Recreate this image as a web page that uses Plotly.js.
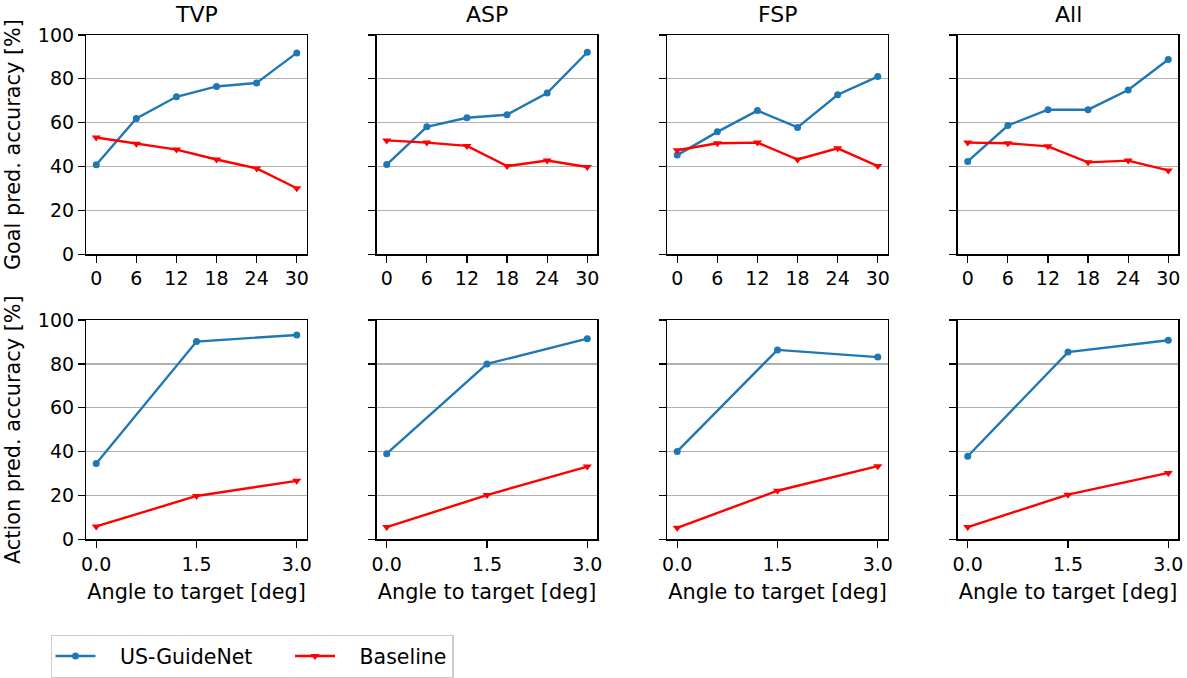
<!DOCTYPE html>
<html>
<head>
<meta charset="utf-8">
<script src="https://cdn.plot.ly/plotly-3.0.1.min.js"></script>
<style>
  html, body { margin: 0; padding: 0; background: #fff; }
  #chart { width: 1187px; height: 678px; }
</style>
</head>
<body>
<div id="chart"></div>
<script>
// panel names
var panels = ["TVP", "ASP", "FSP", "All"];

// top row: goal prediction accuracy vs angle
var goalX = [0, 6, 12, 18, 24, 30];
var goalNet = [
    [40.8, 61.9, 71.8, 76.5, 78.1, 91.8],
    [40.9, 58.1, 62.2, 63.6, 73.5, 92.1],
    [45.2, 55.8, 65.5, 57.8, 72.7, 81.0],
    [42.3, 58.7, 65.9, 65.9, 74.9, 88.8]
];
var goalBase = [
    [53.2, 50.4, 47.7, 43.2, 39.1, 30.1],
    [51.9, 50.9, 49.4, 40.2, 42.7, 39.8],
    [47.4, 50.6, 50.9, 43.2, 48.3, 40.2],
    [50.9, 50.6, 49.2, 41.9, 42.7, 38.2]
];

// bottom row: action prediction accuracy vs angle
var actX = [0, 1.5, 3.0];
var actNet = [
    [34.6, 90.2, 93.2],
    [39.1, 80.0, 91.5],
    [40.1, 86.4, 83.1],
    [37.9, 85.4, 90.8]
];
var actBase = [
    [5.9, 19.8, 26.7],
    [5.6, 20.2, 33.2],
    [5.3, 22.2, 33.4],
    [5.6, 20.4, 30.3]
];

var yTicks = [0, 20, 40, 60, 80, 100];
var seriesNames = ["US-GuideNet", "Baseline"];
var blue = "#1f77b4";
var red = "#ff0000";
var font = "DejaVu Sans, sans-serif";
var nb = "\u00a0";

var W = 1187, H = 678;
// panel boxes in px (left edges, width), rows top / bottom
var lefts = [86.2, 376.7, 667.2, 957.7];
var pw = 220.6;
var rows = [[35, 255], [321, 541]];

var data = [];
var layout = {
    width: W, height: H,
    margin: {l: 0, r: 0, t: 0, b: 0},
    paper_bgcolor: "#fff",
    plot_bgcolor: "#fff",
    font: {family: font, size: 19, color: "#000"},
    showlegend: true,
    legend: {
        orientation: "h",
        x: 50.5 / W, xanchor: "left",
        y: 1 - 637 / H, yanchor: "top",
        bordercolor: "#cccccc", borderwidth: 1.2,
        font: {family: font, size: 20.5, color: "#000"},
        itemwidth: 40
    },
    annotations: []
};

function axisBase(){
    return {
        showline: true, mirror: true, linecolor: "#000", linewidth: 1.3,
        ticks: "outside", ticklen: 7, tickwidth: 1.3, tickcolor: "#000",
        zeroline: false, fixedrange: true,
        tickfont: {family: font, size: 19, color: "#000"}
    };
}

for (let r = 0; r < 2; r++){
    for (let c = 0; c < 4; c++){
        var n = r * 4 + c + 1;
        var xa = axisBase();
        var ya = axisBase();
        xa.domain = [lefts[c] / W, (lefts[c] + pw) / W];
        ya.domain = [1 - rows[r][1] / H, 1 - rows[r][0] / H];
        xa.anchor = "y" + n;
        ya.anchor = "x" + n;
        xa.showgrid = false;
        ya.showgrid = true;
        ya.gridcolor = "#b0b0b0";
        ya.gridwidth = 1.2;
        ya.range = [0, 100];
        ya.tickvals = yTicks;
        ya.showticklabels = (c === 0);
        if (r === 0){
            xa.range = [-1.5, 31.5];
            xa.tickvals = goalX;
            if (c === 0) ya.title = {text: "Goal pred. accuracy [%]", standoff: 11, font: {size: 20.8}};
        } else {
            xa.range = [-0.15, 3.15];
            xa.tickvals = actX;
            xa.tickformat = ".1f";
            xa.title = {text: "Angle to target [deg]", standoff: 11, font: {size: 20.8}};
            if (c === 0) ya.title = {text: "Action pred. accuracy [%]", standoff: 11, font: {size: 20.8}};
        }
        layout["xaxis" + n] = xa;
        layout["yaxis" + n] = ya;

        var xs = r === 0 ? goalX : actX;
        var net = r === 0 ? goalNet[c] : actNet[c];
        var base = r === 0 ? goalBase[c] : actBase[c];
        data.push({
            type: "scatter", mode: "lines+markers",
            x: xs, y: net, xaxis: "x" + n, yaxis: "y" + n,
            name: nb.repeat(3) + seriesNames[0] + nb.repeat(5), legendgroup: "net", showlegend: n === 1,
            line: {color: blue, width: 2.4},
            marker: {color: blue, size: 7, symbol: "circle"}
        });
        data.push({
            type: "scatter", mode: "lines+markers",
            x: xs, y: base, xaxis: "x" + n, yaxis: "y" + n,
            name: nb.repeat(3) + seriesNames[1], legendgroup: "base", showlegend: n === 1,
            line: {color: red, width: 2.4},
            marker: {color: red, size: 8, symbol: "triangle-down"}
        });
    }
}

for (let c = 0; c < 4; c++){
    layout.annotations.push({
        text: panels[c], xref: "paper", yref: "paper",
        x: (lefts[c] + pw / 2) / W, y: 1 - 35 / H,
        xanchor: "center", yanchor: "bottom", yshift: 6,
        showarrow: false, font: {family: font, size: 22, color: "#000"}
    });
}

Plotly.newPlot("chart", data, layout, {displayModeBar: false, staticPlot: true});
</script>
</body>
</html>
